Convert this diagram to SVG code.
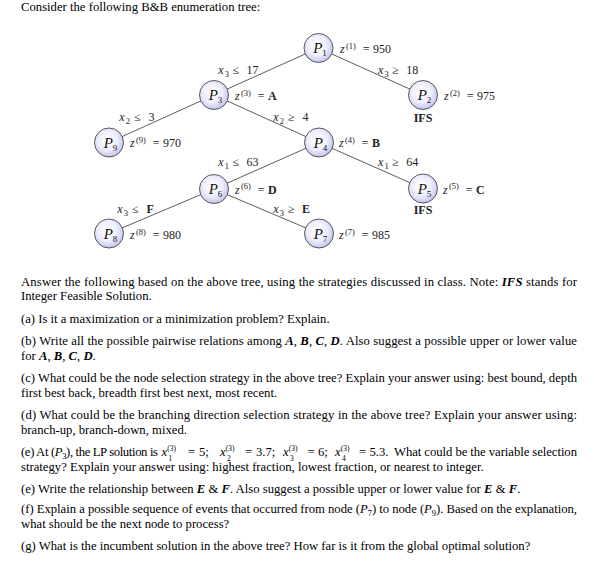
<svg xmlns="http://www.w3.org/2000/svg" width="594" height="566" viewBox="0 0 594 566">
<defs>
<radialGradient id="g" cx="0.45" cy="0.42" r="0.62">
<stop offset="0" stop-color="#ffffff"/>
<stop offset="0.55" stop-color="#eeeefc"/>
<stop offset="1" stop-color="#bdbdf0"/>
</radialGradient>
</defs>
<style>
.t{font-family:"Liberation Serif",serif;font-size:12.7px;fill:#000}
.bi{font-weight:bold;font-style:italic}
.it{font-style:italic}
.tr{font-family:"Liberation Serif",serif;font-size:12px;fill:#222}
.sm{font-size:8.5px}
.xs{font-size:7.5px}
.b{font-weight:bold}
.node circle{fill:url(#g);stroke:#333;stroke-width:0.8}
.pl{font-family:"Liberation Serif",serif;font-size:15px;font-style:italic;fill:#111;text-anchor:middle}
.ps{font-size:9px;font-style:normal}
.ifs{font-family:"Liberation Serif",serif;font-size:12px;font-weight:bold;fill:#222;text-anchor:middle}
#connectors line{stroke:#333;stroke-width:0.8}
</style>
<rect width="594" height="566" fill="#fff"/>
<text class="t" x="21" y="10.5">Consider the following B&amp;B enumeration tree:</text>

<g id="connectors">
<line x1="318.5" y1="48" x2="214" y2="95"/>
<line x1="318.5" y1="48" x2="423" y2="95"/>
<line x1="214" y1="95" x2="109" y2="142.5"/>
<line x1="214" y1="95" x2="319" y2="142.5"/>
<line x1="319" y1="142.5" x2="214" y2="189"/>
<line x1="319" y1="142.5" x2="423" y2="188.5"/>
<line x1="214" y1="189" x2="109" y2="233.5"/>
<line x1="214" y1="189" x2="319" y2="233.5"/>
<text class="tr" y="74"><tspan x="218.3" class="it">x</tspan><tspan x="224.8" dy="3" class="sm">3</tspan><tspan x="232.5" dy="-3">≤</tspan><tspan x="246.5">17</tspan></text>
<text class="tr" y="74"><tspan x="378" class="it">x</tspan><tspan x="384.5" dy="3" class="sm">3</tspan><tspan x="392.2" dy="-3">≥</tspan><tspan x="406.2">18</tspan></text>
<text class="tr" y="120.5"><tspan x="119.3" class="it">x</tspan><tspan x="125.8" dy="3" class="sm">2</tspan><tspan x="134" dy="-3">≤</tspan><tspan x="148.5">3</tspan></text>
<text class="tr" y="120.5"><tspan x="273.3" class="it">x</tspan><tspan x="279.8" dy="3" class="sm">2</tspan><tspan x="288" dy="-3">≥</tspan><tspan x="302.5">4</tspan></text>
<text class="tr" y="166"><tspan x="218.3" class="it">x</tspan><tspan x="224.8" dy="3" class="sm">1</tspan><tspan x="232.5" dy="-3">≤</tspan><tspan x="246.5">63</tspan></text>
<text class="tr" y="166"><tspan x="378" class="it">x</tspan><tspan x="384.5" dy="3" class="sm">1</tspan><tspan x="392.2" dy="-3">≥</tspan><tspan x="406.2">64</tspan></text>
<text class="tr" y="213"><tspan x="117.3" class="it">x</tspan><tspan x="123.8" dy="3" class="sm">3</tspan><tspan x="132" dy="-3">≤</tspan><tspan x="146.5" class="b">F</tspan></text>
<text class="tr" y="213"><tspan x="273.3" class="it">x</tspan><tspan x="279.8" dy="3" class="sm">3</tspan><tspan x="288" dy="-3">≥</tspan><tspan x="302" class="b">E</tspan></text>
</g>

<g id="P1" class="node">
<circle cx="318.5" cy="48" r="14.5"/>
<text class="pl" x="320" y="53">P<tspan class="ps" dy="3">1</tspan></text>
<text class="tr" y="53"><tspan x="340" class="it">z</tspan><tspan x="346" dy="-4.5" class="sm">(1)</tspan><tspan x="362.7" dy="4.5">=</tspan><tspan x="373">950</tspan></text>
</g>
<g id="P2" class="node">
<circle cx="423" cy="95" r="14.5"/>
<text class="pl" x="424.5" y="100">P<tspan class="ps" dy="3">2</tspan></text>
<text class="tr" y="100"><tspan x="444" class="it">z</tspan><tspan x="450" dy="-4.5" class="sm">(2)</tspan><tspan x="466.7" dy="4.5">=</tspan><tspan x="477">975</tspan></text>
<text class="ifs" x="423" y="122">IFS</text>
</g>
<g id="P3" class="node">
<circle cx="214" cy="95" r="14.5"/>
<text class="pl" x="215.5" y="100">P<tspan class="ps" dy="3">3</tspan></text>
<text class="tr" y="100"><tspan x="235" class="it">z</tspan><tspan x="241" dy="-4.5" class="sm">(3)</tspan><tspan x="257.7" dy="4.5">=</tspan><tspan x="268" class="b">A</tspan></text>
</g>
<g id="P9" class="node">
<circle cx="109" cy="142.5" r="14.5"/>
<text class="pl" x="110.5" y="147.5">P<tspan class="ps" dy="3">9</tspan></text>
<text class="tr" y="147"><tspan x="130" class="it">z</tspan><tspan x="136" dy="-4.5" class="sm">(9)</tspan><tspan x="152.7" dy="4.5">=</tspan><tspan x="163">970</tspan></text>
</g>
<g id="P4" class="node">
<circle cx="319" cy="142.5" r="14.5"/>
<text class="pl" x="320.5" y="147.5">P<tspan class="ps" dy="3">4</tspan></text>
<text class="tr" y="147"><tspan x="339" class="it">z</tspan><tspan x="345" dy="-4.5" class="sm">(4)</tspan><tspan x="361.7" dy="4.5">=</tspan><tspan x="372" class="b">B</tspan></text>
</g>
<g id="P6" class="node">
<circle cx="214" cy="189" r="14.5"/>
<text class="pl" x="215.5" y="194">P<tspan class="ps" dy="3">6</tspan></text>
<text class="tr" y="193.5"><tspan x="235" class="it">z</tspan><tspan x="241" dy="-4.5" class="sm">(6)</tspan><tspan x="257.7" dy="4.5">=</tspan><tspan x="268" class="b">D</tspan></text>
</g>
<g id="P5" class="node">
<circle cx="423" cy="188.5" r="14.5"/>
<text class="pl" x="424.5" y="193.5">P<tspan class="ps" dy="3">5</tspan></text>
<text class="tr" y="193.5"><tspan x="443" class="it">z</tspan><tspan x="449" dy="-4.5" class="sm">(5)</tspan><tspan x="465.7" dy="4.5">=</tspan><tspan x="476" class="b">C</tspan></text>
<text class="ifs" x="423" y="214">IFS</text>
</g>
<g id="P8" class="node">
<circle cx="109" cy="233.5" r="14.5"/>
<text class="pl" x="110.5" y="238.5">P<tspan class="ps" dy="3">8</tspan></text>
<text class="tr" y="239"><tspan x="130" class="it">z</tspan><tspan x="136" dy="-4.5" class="sm">(8)</tspan><tspan x="152.7" dy="4.5">=</tspan><tspan x="163">980</tspan></text>
</g>
<g id="P7" class="node">
<circle cx="319" cy="233.5" r="14.5"/>
<text class="pl" x="320.5" y="238.5">P<tspan class="ps" dy="3">7</tspan></text>
<text class="tr" y="239"><tspan x="339" class="it">z</tspan><tspan x="345" dy="-4.5" class="sm">(7)</tspan><tspan x="361.7" dy="4.5">=</tspan><tspan x="372">985</tspan></text>
</g>

<g id="questions">
<text class="t" x="21" y="285.5" textLength="556" lengthAdjust="spacing">Answer the following based on the above tree, using the strategies discussed in class. Note: <tspan class="bi">IFS</tspan> stands for</text>
<text class="t" x="21" y="300">Integer Feasible Solution.</text>
<text class="t" x="21" y="322.5">(a) Is it a maximization or a minimization problem? Explain.</text>
<text class="t" x="21" y="345" textLength="556" lengthAdjust="spacing">(b) Write all the possible pairwise relations among <tspan class="bi">A</tspan>, <tspan class="bi">B</tspan>, <tspan class="bi">C</tspan>, <tspan class="bi">D</tspan>. Also suggest a possible upper or lower value</text>
<text class="t" x="21" y="359.5">for <tspan class="bi">A</tspan>, <tspan class="bi">B</tspan>, <tspan class="bi">C</tspan>, <tspan class="bi">D</tspan>.</text>
<text class="t" x="21" y="382" textLength="556" lengthAdjust="spacing">(c) What could be the node selection strategy in the above tree? Explain your answer using: best bound, depth</text>
<text class="t" x="21" y="396.5">first best back, breadth first best next, most recent.</text>
<text class="t" x="21" y="419" textLength="556" lengthAdjust="spacing">(d) What could be the branching direction selection strategy in the above tree? Explain your answer using:</text>
<text class="t" x="21" y="433.5">branch-up, branch-down, mixed.</text>
<text class="t" x="21" y="456" textLength="137" lengthAdjust="spacing">(e) At (<tspan class="it">P</tspan><tspan dy="3" class="sm">3</tspan><tspan dy="-3">), the LP solution is</tspan></text>
<text class="t" y="456"><tspan x="161.5" class="it">x</tspan><tspan x="167.3" dy="-5.5" class="xs">(3)</tspan><tspan x="168.5" dy="10" class="xs">1</tspan><tspan x="188" dy="-4.5">=</tspan><tspan x="199">5;</tspan><tspan x="220" class="it">x</tspan><tspan x="225.8" dy="-5.5" class="xs">(3)</tspan><tspan x="227" dy="10" class="xs">2</tspan><tspan x="245" dy="-4.5">=</tspan><tspan x="256">3.7;</tspan><tspan x="283" class="it">x</tspan><tspan x="288.8" dy="-5.5" class="xs">(3)</tspan><tspan x="290" dy="10" class="xs">3</tspan><tspan x="307.5" dy="-4.5">=</tspan><tspan x="318">6;</tspan><tspan x="335" class="it">x</tspan><tspan x="340.8" dy="-5.5" class="xs">(3)</tspan><tspan x="342" dy="10" class="xs">4</tspan><tspan x="359" dy="-4.5">=</tspan><tspan x="369.5">5.3.</tspan></text>
<text class="t" x="394" y="456" textLength="183" lengthAdjust="spacing">What could be the variable selection</text>
<text class="t" x="21" y="470.5">strategy? Explain your answer using: highest fraction, lowest fraction, or nearest to integer.</text>
<text class="t" x="21" y="492.5">(e) Write the relationship between <tspan class="bi">E</tspan> &amp; <tspan class="bi">F</tspan>. Also suggest a possible upper or lower value for <tspan class="bi">E</tspan> &amp; <tspan class="bi">F</tspan>.</text>
<text class="t" x="21" y="513" textLength="556" lengthAdjust="spacing">(f) Explain a possible sequence of events that occurred from node (<tspan class="it">P</tspan><tspan class="sm" dy="3">7</tspan><tspan dy="-3">) to node (</tspan><tspan class="it">P</tspan><tspan class="sm" dy="3">9</tspan><tspan dy="-3">). Based on the explanation,</tspan></text>
<text class="t" x="21" y="527.5">what should be the next node to process?</text>
<text class="t" x="21" y="549.5">(g) What is the incumbent solution in the above tree? How far is it from the global optimal solution?</text>
</g>
</svg>
